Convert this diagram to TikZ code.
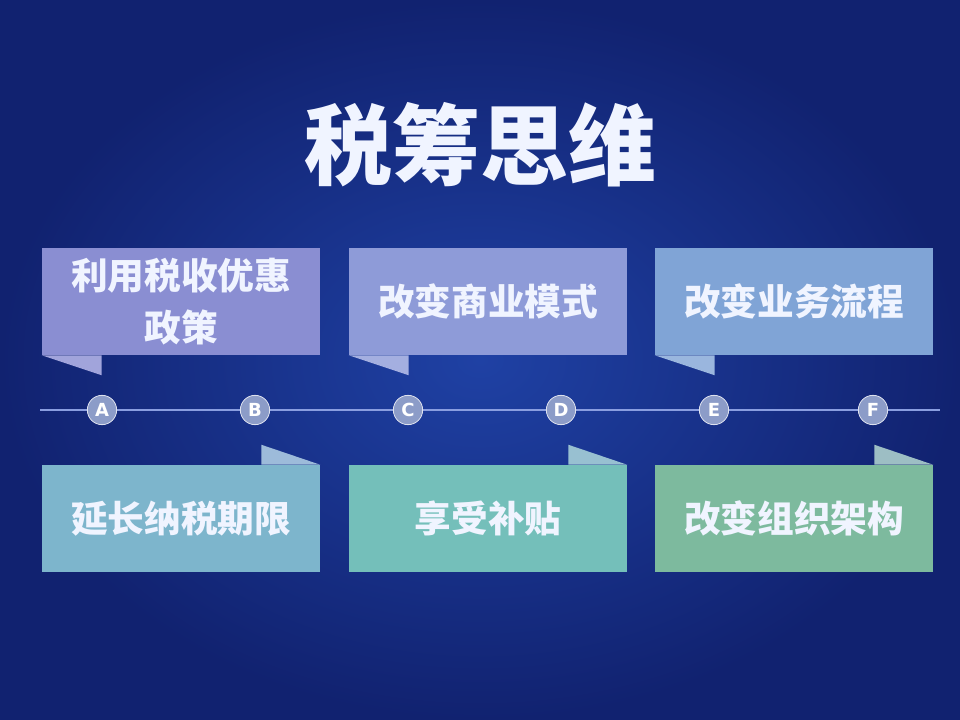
\documentclass[tikz,border=0pt]{standalone}
\usepackage{fontspec}
\newfontfamily\cjk{Noto Sans CJK SC}
\newfontfamily\latinsans{DejaVu Sans}
\definecolor{bgin}{HTML}{1F41A4}
\definecolor{bgout}{HTML}{112270}
\definecolor{tA}{HTML}{8A8ED2}
\definecolor{tB}{HTML}{8E9BD8}
\definecolor{tC}{HTML}{80A4D6}
\definecolor{bA}{HTML}{7DB5CC}
\definecolor{bB}{HTML}{74BFBA}
\definecolor{bC}{HTML}{7DBA9E}
\definecolor{dotc}{HTML}{8C9CC8}
\definecolor{linec}{HTML}{8A9EE0}
\definecolor{txt}{HTML}{F0F4FF}
\tikzset{
  card/.style={minimum width=278*0.75pt, minimum height=107*0.75pt, inner sep=0pt,
    text=txt, font=\cjk\bfseries\fontsize{27.5}{39}\selectfont, align=center},
  dot/.style={circle, fill=dotc, draw=white!70!dotc, line width=0.6pt, minimum size=22pt, inner sep=0pt,
    text=white, font=\latinsans\bfseries\fontsize{13.5}{13.5}\selectfont},
  tline/.style={draw=linec, line width=2.2pt}
}
\begin{document}
\begin{tikzpicture}[x=0.75pt,y=-0.75pt]
\useasboundingbox (0,0) rectangle (960,720);
\shade[inner color=bgin, outer color=bgout] (0,0) rectangle (960,720);
% title
\node[text=txt, font=\cjk\bfseries\fontsize{66}{66}\selectfont] (title) at (480,145) {税筹思维};
% timeline
\coordinate (L) at (40,410);
\coordinate (R) at (940,410);
\draw[tline] (L) -- (R);
\node[dot] (A) at (102,410) {A};
\node[dot] (B) at (255,410) {B};
\node[dot] (C) at (408,410) {C};
\node[dot] (D) at (561,410) {D};
\node[dot] (E) at (714,410) {E};
\node[dot] (F) at (873,410) {F};
% top cards
\node[card, fill=tA] (t1) at (181,301.5) {利用税收优惠\\政策};
\node[card, fill=tB] (t2) at (488,301.5) {改变商业模式};
\node[card, fill=tC] (t3) at (794,301.5) {改变业务流程};
\foreach \n/\c in {t1/tA,t2/tB,t3/tC}{
  \fill[\c!80!white] (\n.south west) -- ++(60,20) -- ++(0,-20) -- cycle;
}
% bottom cards
\node[card, fill=bA] (b1) at (181,518.5) {延长纳税期限};
\node[card, fill=bB] (b2) at (488,518.5) {享受补贴};
\node[card, fill=bC] (b3) at (794,518.5) {改变组织架构};
\foreach \n/\c in {b1/bA,b2/bB,b3/bC}{
  \fill[\c!60!tB!80!white] (\n.north east) -- ++(-59,-20) -- ++(0,20) -- cycle;
}
\end{tikzpicture}
\end{document}
